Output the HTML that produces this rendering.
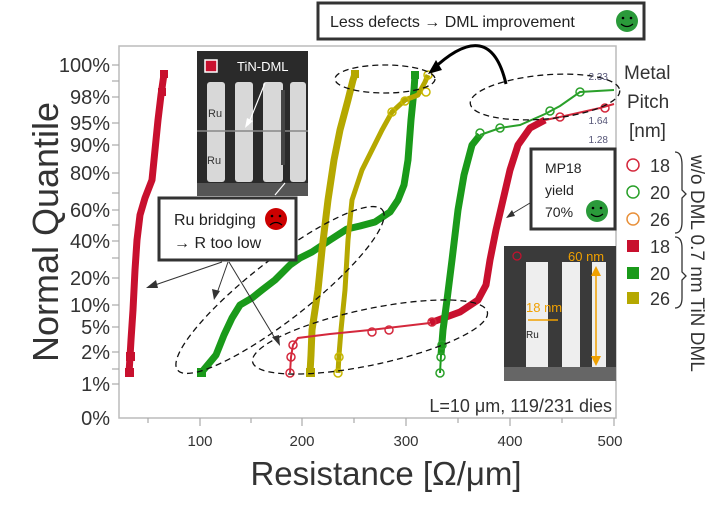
<!DOCTYPE html>
<html><head><meta charset="utf-8"><style>
body{margin:0;background:#fff;}
svg{display:block;font-family:"Liberation Sans","DejaVu Sans",sans-serif;}
</style></head><body>
<svg width="717" height="519" viewBox="0 0 717 519" xmlns="http://www.w3.org/2000/svg">
<rect width="717" height="519" fill="#fff"/>
<rect x="119" y="46" width="497" height="372" fill="none" stroke="#bbb" stroke-width="1.5"/>
<g stroke="#aaa" stroke-width="1.2">
<line x1="112" y1="65" x2="119" y2="65"/><line x1="112" y1="81" x2="119" y2="81"/><line x1="112" y1="97" x2="119" y2="97"/>
<line x1="112" y1="123" x2="119" y2="123"/><line x1="112" y1="145" x2="119" y2="145"/><line x1="112" y1="173" x2="119" y2="173"/>
<line x1="112" y1="193" x2="119" y2="193"/><line x1="112" y1="210" x2="119" y2="210"/><line x1="112" y1="225" x2="119" y2="225"/>
<line x1="112" y1="241" x2="119" y2="241"/><line x1="112" y1="258" x2="119" y2="258"/><line x1="112" y1="278" x2="119" y2="278"/>
<line x1="112" y1="305" x2="119" y2="305"/><line x1="112" y1="327" x2="119" y2="327"/><line x1="112" y1="352" x2="119" y2="352"/>
<line x1="112" y1="369" x2="119" y2="369"/><line x1="112" y1="384" x2="119" y2="384"/>
</g>
<g font-size="20" fill="#333" text-anchor="end">
<text x="110" y="72">100%</text><text x="110" y="104">98%</text><text x="110" y="130">95%</text>
<text x="110" y="152">90%</text><text x="110" y="180">80%</text><text x="110" y="217">60%</text>
<text x="110" y="248">40%</text><text x="110" y="285">20%</text><text x="110" y="312">10%</text>
<text x="110" y="334">5%</text><text x="110" y="359">2%</text><text x="110" y="391">1%</text>
<text x="110" y="425">0%</text>
</g>
<g stroke="#aaa" stroke-width="1.2">
<line x1="148" y1="418" x2="148" y2="423"/><line x1="200" y1="418" x2="200" y2="426"/><line x1="251" y1="418" x2="251" y2="423"/>
<line x1="302" y1="418" x2="302" y2="426"/><line x1="354" y1="418" x2="354" y2="423"/><line x1="406" y1="418" x2="406" y2="426"/>
<line x1="458" y1="418" x2="458" y2="423"/><line x1="510" y1="418" x2="510" y2="426"/><line x1="562" y1="418" x2="562" y2="423"/>
<line x1="614" y1="418" x2="614" y2="426"/>
</g>
<g font-size="15" fill="#333" text-anchor="middle">
<text x="200" y="446">100</text><text x="302" y="446">200</text><text x="406" y="446">300</text><text x="510" y="446">400</text><text x="610" y="446">500</text>
</g>
<text x="386" y="485" font-size="33" fill="#333" text-anchor="middle">Resistance [Ω/μm]</text>
<text transform="translate(58,232) rotate(-90)" font-size="36" fill="#333" text-anchor="middle">Normal Quantile</text>
<text x="612" y="412" font-size="18" fill="#333" text-anchor="end">L=10 μm, 119/231 dies</text>

<rect x="197" y="51" width="111" height="145" fill="#2a2a2a"/>
<g fill="#d8d8d8">
<rect x="207" y="82" width="18" height="100" rx="3"/><rect x="235" y="82" width="18" height="100" rx="3"/>
<rect x="263" y="82" width="20" height="100" rx="3"/><rect x="290" y="82" width="16" height="100" rx="3"/>
</g>
<rect x="197" y="183" width="111" height="13" fill="#555"/>
<line x1="197" y1="131" x2="308" y2="131" stroke="#888" stroke-width="1.5"/>
<rect x="281" y="90" width="4" height="75" fill="#444"/>
<rect x="205" y="60" width="12" height="12" fill="#c8102e" stroke="#fff" stroke-width="1.5"/>
<text x="237" y="71" font-size="13" fill="#fff">TiN-DML</text>
<text x="208" y="117" font-size="11" fill="#333">Ru</text><text x="207" y="164" font-size="11" fill="#333">Ru</text>
<line x1="265" y1="83" x2="248" y2="125" stroke="#fff" stroke-width="1.2"/>
<polygon points="245,128 247,118 253,121" fill="#fff"/>
<line x1="275" y1="195" x2="285" y2="183" stroke="#fff" stroke-width="1.2"/>

<rect x="504" y="246" width="112" height="135" fill="#3a3a3a"/>
<g fill="#eee">
<rect x="526" y="262" width="22" height="108"/><rect x="562" y="262" width="18" height="108"/><rect x="592" y="262" width="14" height="108"/>
</g>
<rect x="504" y="367" width="112" height="14" fill="#666"/>
<circle cx="517" cy="256" r="4" fill="none" stroke="#c8102e" stroke-width="1.2"/>
<text x="568" y="261" font-size="13" fill="#f0a000">60 nm</text>
<line x1="596" y1="268" x2="596" y2="364" stroke="#f0a000" stroke-width="1.5"/>
<polygon points="596,266 591,276 601,276" fill="#f0a000"/><polygon points="596,366 591,356 601,356" fill="#f0a000"/>
<text x="526" y="312" font-size="13" fill="#f0a000">18 nm</text>
<line x1="528" y1="320" x2="558" y2="320" stroke="#f0a000" stroke-width="1.5"/>
<text x="526" y="338" font-size="10" fill="#222">Ru</text>

<polyline fill="none" stroke="#c8102e" stroke-width="7" stroke-linejoin="round" points="129,373 130,357 131,340 133,310 135,270 137,240 140,215 145,198 152,180 155,150 158,120 161,95 164,74"/>
<g fill="#c8102e"><rect x="125" y="368" width="9" height="9"/><rect x="126" y="352" width="9" height="9"/><rect x="160" y="70" width="8" height="8"/><rect x="158" y="88" width="8" height="8"/></g>
<polyline fill="none" stroke="#1a9a1a" stroke-width="7" stroke-linejoin="round" points="201,373 216,355 224,335 232,318 240,305 252,298 262,290 275,280 290,265 300,258 312,252 330,240 347,229 360,226 375,222 390,212 398,200 404,185 408,160 411,120 414,90 415,75"/>
<rect x="197" y="368" width="9" height="9" fill="#1a9a1a"/><rect x="411" y="71" width="8" height="8" fill="#1a9a1a"/>
<polyline fill="none" stroke="#b5a800" stroke-width="7" stroke-linejoin="round" points="310,373 311,355 312,330 318,290 322,250 328,200 334,160 340,130 348,100 353,80 355,74"/>
<rect x="306" y="368" width="9" height="9" fill="#b5a800"/><rect x="351" y="70" width="8" height="8" fill="#b5a800"/>
<polyline fill="none" stroke="#b5a800" stroke-width="5" stroke-linejoin="round" points="338,373 339,355 341,330 345,290 348,240 352,200 362,170 372,150 382,130 392,112 405,100 418,95 425,82 428,75"/>
<g fill="none" stroke="#c8b800" stroke-width="1.5"><circle cx="338" cy="373" r="4"/><circle cx="339" cy="357" r="4"/><circle cx="428" cy="75" r="4"/><circle cx="426" cy="92" r="4"/><circle cx="405" cy="101" r="4"/><circle cx="392" cy="112" r="4"/></g>
<polyline fill="none" stroke="#d4283c" stroke-width="2" points="290,373 291,357 293,345 298,338 330,334 370,330 430,323"/>
<polyline fill="none" stroke="#c8102e" stroke-width="7" stroke-linejoin="round" points="430,323 460,312 478,300 486,285 490,260 496,230 503,200 510,170 518,145 530,128 545,120"/>
<polyline fill="none" stroke="#d4283c" stroke-width="2" points="545,120 560,117 600,108 614,104"/>
<g fill="none" stroke="#d4283c" stroke-width="1.5"><circle cx="290" cy="373" r="4"/><circle cx="291" cy="357" r="4"/><circle cx="293" cy="345" r="4"/><circle cx="372" cy="332" r="4"/><circle cx="389" cy="330" r="4"/><circle cx="432" cy="322" r="4"/><circle cx="560" cy="117" r="4"/><circle cx="605" cy="108" r="4"/></g>
<polyline fill="none" stroke="#1a9a1a" stroke-width="2" points="440,373 441,355"/>
<polyline fill="none" stroke="#1a9a1a" stroke-width="7" stroke-linejoin="round" points="441,355 443,330 447,300 452,260 458,210 464,175 472,145 480,135"/>
<polyline fill="none" stroke="#2aa02a" stroke-width="2" points="480,135 500,128 520,125 545,114 560,106 580,92 614,90"/>
<g fill="none" stroke="#2aa02a" stroke-width="1.5"><circle cx="440" cy="373" r="4"/><circle cx="441" cy="357" r="4"/><circle cx="442" cy="345" r="4"/><circle cx="480" cy="133" r="4"/><circle cx="500" cy="128" r="4"/><circle cx="550" cy="111" r="4"/><circle cx="580" cy="92" r="4"/></g>

<g fill="none" stroke="#111" stroke-width="1.3" stroke-dasharray="6,4">
<ellipse cx="385" cy="79" rx="50" ry="14"/>
<ellipse cx="545" cy="97" rx="75" ry="22" transform="rotate(-5 545 97)"/>
<ellipse cx="280" cy="290" rx="130" ry="30" transform="rotate(-38 280 290)"/>
<ellipse cx="370" cy="337" rx="120" ry="28" transform="rotate(-12 370 337)"/>
</g>
<rect x="318" y="3" width="326" height="36" fill="#fff" stroke="#333" stroke-width="3"/>
<text x="330" y="27" font-size="16" fill="#222">Less defects → DML improvement</text>
<circle cx="627" cy="21" r="11" fill="#2a9a3a"/><circle cx="623" cy="18" r="1.3" fill="#000"/><circle cx="631" cy="18" r="1.3" fill="#000"/><path d="M621,24 Q627,29 633,24" fill="none" stroke="#000" stroke-width="1.2"/>
<path d="M506,84 Q490,15 432,70" fill="none" stroke="#000" stroke-width="3"/>
<polygon points="428,74 436,60 442,70" fill="#000"/>

<rect x="159" y="198" width="137" height="62" fill="#fff" stroke="#333" stroke-width="3"/>
<text x="174" y="225" font-size="16" fill="#222">Ru bridging</text>
<text x="174" y="248" font-size="16" fill="#222">→ R too low</text>
<circle cx="276" cy="219" r="11" fill="#c00"/><circle cx="272" cy="216" r="1.3" fill="#000"/><circle cx="280" cy="216" r="1.3" fill="#000"/><path d="M270,225 Q276,220 282,225" fill="none" stroke="#000" stroke-width="1.2"/>
<g stroke="#333" stroke-width="1"><line x1="222" y1="262" x2="152" y2="286"/><line x1="228" y1="262" x2="216" y2="296"/><line x1="229" y1="262" x2="276" y2="340"/></g>
<g fill="#333"><polygon points="146,288 156,280 158,288"/><polygon points="214,300 212,289 220,291"/><polygon points="280,346 272,337 279,335"/></g>

<rect x="531" y="149" width="84" height="80" fill="#fff" stroke="#333" stroke-width="3"/>
<text x="545" y="173" font-size="14" fill="#222">MP18</text>
<text x="545" y="195" font-size="14" fill="#222">yield</text>
<text x="545" y="217" font-size="14" fill="#222">70%</text>
<circle cx="597" cy="211" r="11" fill="#2a9a3a"/><circle cx="593" cy="208" r="1.3" fill="#000"/><circle cx="601" cy="208" r="1.3" fill="#000"/><path d="M591,214 Q597,219 603,214" fill="none" stroke="#000" stroke-width="1.2"/>
<line x1="530" y1="203" x2="510" y2="215" stroke="#333" stroke-width="1"/><polygon points="506,218 512,210 515,216" fill="#333"/>

<g font-size="10" fill="#557" text-anchor="end"><text x="608" y="80">2.33</text><text x="608" y="124">1.64</text><text x="608" y="143">1.28</text></g>
<g font-size="19" fill="#333"><text x="624" y="79">Metal</text><text x="627" y="108">Pitch</text><text x="629" y="137">[nm]</text></g>
<g font-size="18" fill="#333">
<circle cx="633" cy="165" r="6" fill="none" stroke="#d4283c" stroke-width="1.5"/><text x="650" y="172">18</text>
<circle cx="633" cy="192" r="6" fill="none" stroke="#2aa02a" stroke-width="1.5"/><text x="650" y="199">20</text>
<circle cx="633" cy="219" r="6" fill="none" stroke="#e8903a" stroke-width="1.5"/><text x="650" y="226">26</text>
<rect x="627" y="240" width="12" height="12" fill="#c8102e"/><text x="650" y="253">18</text>
<rect x="627" y="267" width="12" height="12" fill="#1a9a1a"/><text x="650" y="280">20</text>
<rect x="627" y="292" width="12" height="12" fill="#b5a800"/><text x="650" y="305">26</text>
</g>
<path d="M675,152 Q682,152 682,165 L682,190 L686,194 L682,198 L682,222 Q682,233 675,233" fill="none" stroke="#333" stroke-width="1.3"/>
<path d="M675,237 Q682,237 682,248 L682,272 L686,276 L682,280 L682,298 Q682,308 675,308" fill="none" stroke="#333" stroke-width="1.3"/>
<text transform="translate(691,155) rotate(90)" font-size="19" fill="#333">w/o DML 0.7 nm TiN DML</text>
</svg>
</body></html>
